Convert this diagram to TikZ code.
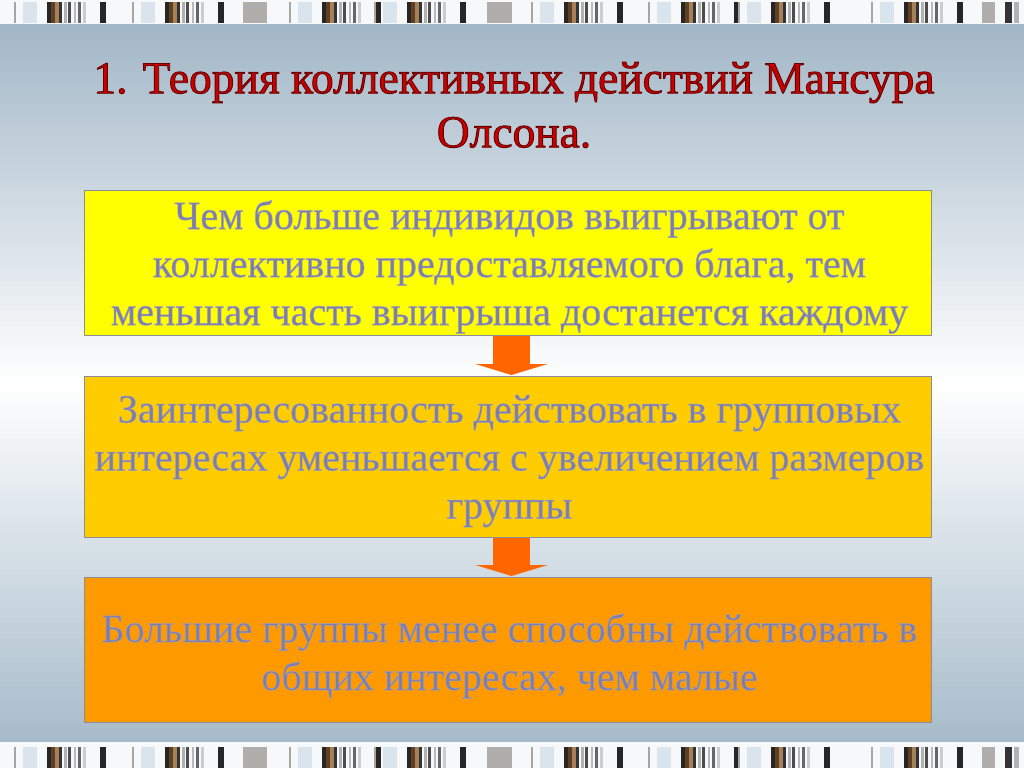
\documentclass[tikz,border=0pt]{standalone}
\usepackage{fontspec}
\setmainfont{Liberation Serif}
\usetikzlibrary{arrows.meta,calc}
\definecolor{bgblue}{RGB}{162,183,199}
\definecolor{bgblue2}{RGB}{166,187,202}
\definecolor{titlered}{RGB}{200,0,0}
\definecolor{txtgray}{RGB}{125,125,170}
\definecolor{boxA}{RGB}{255,255,0}
\definecolor{boxB}{RGB}{255,204,0}
\definecolor{boxC}{RGB}{255,153,0}
\definecolor{arrowc}{RGB}{255,102,0}
\definecolor{edgec}{RGB}{140,140,150}
\definecolor{stripbg}{RGB}{246,248,250}
\definecolor{lightbar}{RGB}{218,228,236}
\definecolor{graybar}{RGB}{176,174,170}
\newcommand{\heavytext}[2]{\special{pdf:literal direct #1 RG 2 Tr #2 w}}
\newcommand{\plaintext}{\special{pdf:literal direct 0 Tr}}
\tikzset{
  box/.style={draw=edgec, line width=1pt, minimum width=847pt, inner sep=0pt},
  boxtext/.style={align=center, inner sep=0pt, text=txtgray, anchor=base,
    font=\fontsize{40}{48}\selectfont},
  flow/.style={draw=arrowc, line width=37pt, -{Triangle[width=72pt,length=11pt]}},
  titletext/.style={text=titlered, align=center, inner sep=0pt, font=\fontsize{45.5}{54}\selectfont}
}
\newcommand{\motif}[1]{%
  \fill[gray!70] (#1,2) rectangle ++(2,21);
  \fill[lightbar] (#1+9,2) rectangle ++(14,21);
  \fill[black!85] (#1+33,2) rectangle ++(4,21);
  \fill[brown!50!black] (#1+37,2) rectangle ++(4,21);
  \fill[brown!60!gray] (#1+41,2) rectangle ++(4,21);
  \fill[black!80] (#1+45,2) rectangle ++(3,21);
  \fill[gray!60] (#1+50,2) rectangle ++(3,21);
  \fill[black!70] (#1+54,2) rectangle ++(3,21);
  \fill[gray!55] (#1+60,2) rectangle ++(2,21);
  \fill[black!60] (#1+64,2) rectangle ++(3,21);
  \fill[gray!40] (#1+69,2) rectangle ++(3,21);
  \fill[black!85] (#1+86,2) rectangle ++(6,21);
}
\begin{document}
\begin{tikzpicture}[x=1pt,y=-1pt]
\useasboundingbox (0,0) rectangle (1024,768);
% background
\fill[stripbg] (0,0) rectangle (1024,768);
\shade[top color=bgblue, bottom color=bgblue2, middle color=white] (0,25) rectangle (1024,741);
% top and bottom strips
\foreach \yy in {0,745}{
  \begin{scope}[yshift=-\yy pt]
  \foreach \xx in {14,132,289,374,531,648,738,871}{\motif{\xx}}
  \fill[graybar] (243,2) rectangle (267,23);
  \fill[graybar] (487,2) rectangle (512,23);
  \fill[graybar] (982,2) rectangle (995,23);
  \fill[black!80] (1005,2) rectangle (1012,23);
  \fill[gray!60] (1014,2) rectangle (1019,23);
  \end{scope}
}
% title
\node[titletext] (title) at (514,105) {\heavytext{0.4 0 0}{0.9}1. Теория коллективных действий Мансура\\Олсона.\plaintext};
% boxes
\node[box, fill=boxA, minimum height=145pt] (b1) at (507.5,262.5) {};
\node[box, fill=boxB, minimum height=161pt] (b2) at (507.5,456.5) {};
\node[box, fill=boxC, minimum height=145pt] (b3) at (507.5,649.5) {};
\node[boxtext] (t1) at ($(b1.center)+(2,62.5)$)
  {\heavytext{0.62 0.62 0.74}{0.5}Чем больше индивидов выигрывают от\\коллективно предоставляемого блага, тем\\меньшая часть выигрыша достанется каждому\plaintext};
\node[boxtext] (t2) at ($(b2.center)+(2,62)$)
  {\heavytext{0.62 0.62 0.74}{0.5}Заинтересованность действовать в групповых\\интересах уменьшается с увеличением размеров\\группы\plaintext};
\node[boxtext] (t3) at ($(b3.center)+(2,40.5)$)
  {\heavytext{0.62 0.62 0.74}{0.5}Большие группы менее способны действовать в\\общих интересах, чем малые\plaintext};
% arrows
\draw[flow] ($(b1.south)+(4,0.5)$) -- ($(b2.north)+(4,-0.5)$);
\draw[flow] ($(b2.south)+(4,0.5)$) -- ($(b3.north)+(4,-0.5)$);
\end{tikzpicture}
\end{document}
